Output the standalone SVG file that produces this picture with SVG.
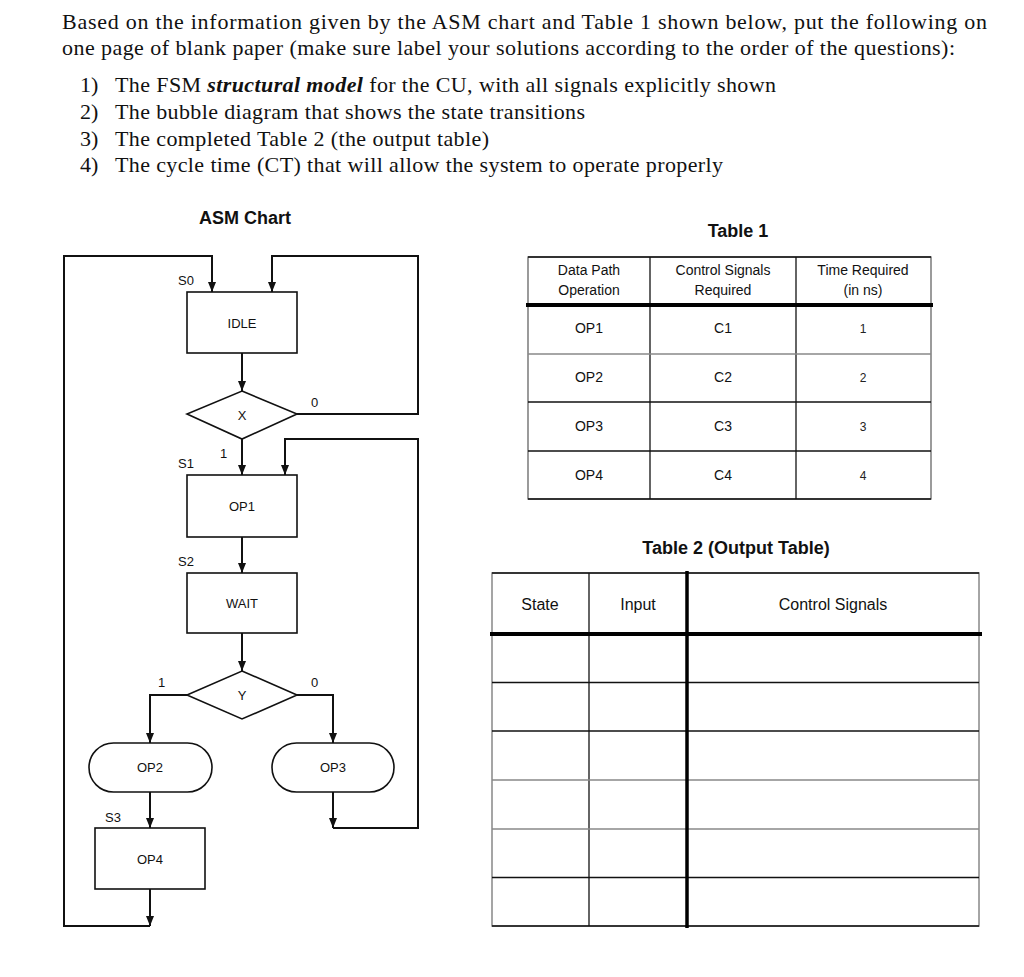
<svg xmlns="http://www.w3.org/2000/svg" width="1024" height="977" viewBox="0 0 1024 977">
<style>
.body{font-family:"Liberation Serif","Times New Roman",serif;font-size:22px;fill:#111}
.lbl{font-family:"Liberation Sans",Arial,sans-serif;font-size:13px;fill:#111}
.ttl{font-family:"Liberation Sans",Arial,sans-serif;font-size:18px;font-weight:bold;fill:#111}
.c{text-anchor:middle}
.box{fill:#fff;stroke:#111;stroke-width:1.6}
.con{fill:none;stroke:#111;stroke-width:2}
.tl{stroke:#111;stroke-width:1.3}
.tg{stroke:#888;stroke-width:1.5}
.thick{stroke:#000;stroke-width:4}
.th{font-family:"Liberation Sans",Arial,sans-serif;font-size:14px;fill:#111;text-anchor:middle}
.tn{font-family:"Liberation Sans",Arial,sans-serif;font-size:12px;fill:#222;text-anchor:middle}
.t2{font-family:"Liberation Sans",Arial,sans-serif;font-size:16px;fill:#111;text-anchor:middle}
</style>
<defs>
<marker id="ah" viewBox="0 0 10 10" refX="10" refY="5" markerWidth="10" markerHeight="10" markerUnits="userSpaceOnUse" orient="auto"><path d="M0,1 L10,5 L0,9 Z" fill="#111"/></marker>
</defs>
<rect width="1024" height="977" fill="#fff"/>
<g id="question">
<text class="body" x="62" y="29" textLength="925" lengthAdjust="spacing">Based on the information given by the ASM chart and Table 1 shown below, put the following on</text>
<text class="body" x="62" y="55" textLength="893" lengthAdjust="spacing">one page of blank paper (make sure label your solutions according to the order of the questions):</text>
<text class="body" x="80" y="92">1)</text>
<text class="body" x="115" y="92" textLength="661" lengthAdjust="spacing">The FSM <tspan font-weight="bold" font-style="italic">structural model</tspan> for the CU, with all signals explicitly shown</text>
<text class="body" x="80" y="119">2)</text>
<text class="body" x="115" y="119" textLength="470" lengthAdjust="spacing">The bubble diagram that shows the state transitions</text>
<text class="body" x="80" y="146">3)</text>
<text class="body" x="115" y="146" textLength="374" lengthAdjust="spacing">The completed Table 2 (the output table)</text>
<text class="body" x="80" y="172">4)</text>
<text class="body" x="115" y="172" textLength="608" lengthAdjust="spacing">The cycle time (CT) that will allow the system to operate properly</text>
</g>
<text class="ttl c" x="245" y="224">ASM Chart</text>
<g id="connectors">
<path class="con" d="M242,353 V391" marker-end="url(#ah)"/>
<path class="con" d="M297,414 H418 V256 H272 V292" marker-end="url(#ah)"/>
<path class="con" d="M242,439 V475" marker-end="url(#ah)"/>
<path class="con" d="M242,537 V573" marker-end="url(#ah)"/>
<path class="con" d="M242,633 V671" marker-end="url(#ah)"/>
<path class="con" d="M187,695 H150 V743" marker-end="url(#ah)"/>
<path class="con" d="M297,695 H333 V743" marker-end="url(#ah)"/>
<path class="con" d="M150,792 V828" marker-end="url(#ah)"/>
<path class="con" d="M333,792 V828" marker-end="url(#ah)"/>
<path class="con" d="M333,828 H418 V439 H285 V475" marker-end="url(#ah)"/>
<path class="con" d="M150,889 V926" marker-end="url(#ah)"/>
<path class="con" d="M150,926 H64 V256 H212 V292" marker-end="url(#ah)"/>
</g>
<g id="S0-IDLE">
<rect class="box" x="187" y="292" width="110" height="61"/>
<text class="lbl c" x="242" y="328">IDLE</text>
<text class="lbl" x="178" y="285">S0</text>
</g>
<g id="decision-X">
<polygon class="box" points="242,391 297,414 242,439 187,414"/>
<text class="lbl c" x="242" y="420">X</text>
<text class="lbl" x="311" y="407">0</text>
<text class="lbl" x="220" y="458">1</text>
</g>
<g id="S1-OP1">
<rect class="box" x="187" y="475" width="110" height="62"/>
<text class="lbl c" x="242" y="511">OP1</text>
<text class="lbl" x="178" y="468">S1</text>
</g>
<g id="S2-WAIT">
<rect class="box" x="187" y="573" width="110" height="60"/>
<text class="lbl c" x="242" y="608">WAIT</text>
<text class="lbl" x="178" y="566">S2</text>
</g>
<g id="decision-Y">
<polygon class="box" points="242,671 297,695 242,719 187,695"/>
<text class="lbl c" x="242" y="700">Y</text>
<text class="lbl" x="158" y="687">1</text>
<text class="lbl" x="311" y="687">0</text>
</g>
<g id="OP2">
<rect class="box" x="89" y="743" width="123" height="49" rx="24.5"/>
<text class="lbl c" x="150" y="772">OP2</text>
</g>
<g id="OP3">
<rect class="box" x="272" y="743" width="122" height="49" rx="24.5"/>
<text class="lbl c" x="333" y="772">OP3</text>
</g>
<g id="S3-OP4">
<rect class="box" x="95" y="828" width="110" height="61"/>
<text class="lbl c" x="150" y="864">OP4</text>
<text class="lbl" x="105" y="822">S3</text>
</g>
<g id="table1">
<text class="ttl c" x="738" y="237" font-size="17">Table 1</text>
<rect x="528" y="257" width="403" height="242" fill="none" stroke="#666" stroke-width="1.3"/>
<line class="tl" x1="528" y1="257" x2="931" y2="257"/>
<line class="tl" x1="650" y1="257" x2="650" y2="499"/>
<line class="tl" x1="796" y1="257" x2="796" y2="499"/>
<line class="tg" x1="528" y1="354" x2="931" y2="354"/>
<line class="tl" x1="528" y1="402" x2="931" y2="402"/>
<line class="tl" x1="528" y1="451" x2="931" y2="451"/>
<line class="tl" x1="528" y1="499" x2="931" y2="499"/>
<line class="thick" x1="526" y1="305" x2="933" y2="305"/>
<text class="th" x="589" y="275">Data Path</text>
<text class="th" x="589" y="295">Operation</text>
<text class="th" x="723" y="275">Control Signals</text>
<text class="th" x="723" y="295">Required</text>
<text class="th" x="863" y="275">Time Required</text>
<text class="th" x="863" y="295">(in ns)</text>
<text class="th" x="589" y="333">OP1</text>
<text class="th" x="723" y="333">C1</text>
<text class="tn" x="863" y="333">1</text>
<text class="th" x="589" y="382">OP2</text>
<text class="th" x="723" y="382">C2</text>
<text class="tn" x="863" y="382">2</text>
<text class="th" x="589" y="431">OP3</text>
<text class="th" x="723" y="431">C3</text>
<text class="tn" x="863" y="431">3</text>
<text class="th" x="589" y="480">OP4</text>
<text class="th" x="723" y="480">C4</text>
<text class="tn" x="863" y="480">4</text>
</g>
<g id="table2">
<text class="ttl c" x="736" y="554" font-size="17">Table 2 (Output Table)</text>
<rect x="492" y="573" width="487" height="353" fill="none" stroke="#888" stroke-width="1.5"/>
<line class="tl" x1="492" y1="573" x2="979" y2="573"/>
<line class="tl" x1="589" y1="573" x2="589" y2="926"/>
<line class="tl" x1="492" y1="682.5" x2="979" y2="682.5"/>
<line class="tl" x1="492" y1="731" x2="979" y2="731"/>
<line class="tg" x1="492" y1="780" x2="979" y2="780"/>
<line class="tg" x1="492" y1="829" x2="979" y2="829"/>
<line class="tl" x1="492" y1="877.5" x2="979" y2="877.5"/>
<line class="tl" x1="492" y1="926" x2="979" y2="926"/>
<line class="thick" x1="490" y1="634" x2="982" y2="634"/>
<line x1="687" y1="571" x2="687" y2="928" stroke="#000" stroke-width="3.5"/>
<text class="t2" x="540" y="610">State</text>
<text class="t2" x="638" y="610">Input</text>
<text class="t2" x="833" y="610">Control Signals</text>
</g>
</svg>
